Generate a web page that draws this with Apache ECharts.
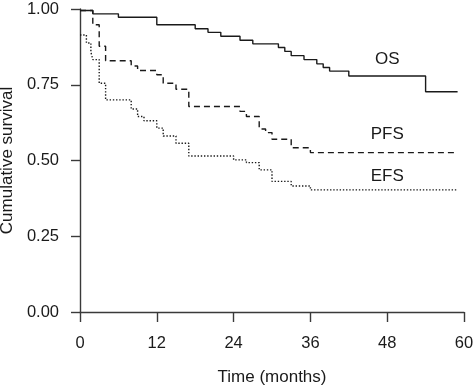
<!DOCTYPE html>
<html>
<head>
<meta charset="utf-8">
<script src="https://cdn.jsdelivr.net/npm/echarts@6/dist/echarts.min.js"></script>
<style>
html,body{margin:0;padding:0;background:#fff;}
#c{width:474px;height:389px;}
</style>
</head>
<body>
<div id="c"></div>
<script>
const xTicks = [0, 12, 24, 36, 48, 60];
const yTicks = [0, 0.25, 0.5, 0.75, 1.0];

const osTime = [0, 2, 6, 12, 18, 20, 22, 25, 27, 31, 32, 33, 35, 37, 38, 39, 42, 54, 59];
const osSurv = [0.995, 0.984, 0.973, 0.948, 0.935, 0.923, 0.910, 0.897, 0.885, 0.873, 0.860, 0.846, 0.833, 0.819, 0.807, 0.795, 0.779, 0.727, 0.727];

const pfsTime = [0, 2, 3, 4, 8, 9, 12, 13, 15, 17, 25, 26, 28, 29, 30, 33, 36, 59];
const pfsSurv = [0.995, 0.948, 0.877, 0.829, 0.812, 0.797, 0.783, 0.755, 0.735, 0.678, 0.662, 0.645, 0.604, 0.592, 0.570, 0.542, 0.526, 0.526];

const efsTime = [0, 1, 1.7, 2, 3, 4, 8, 9, 10, 12, 13, 15, 17, 24, 26, 28, 30, 33, 36, 59];
const efsSurv = [0.914, 0.888, 0.858, 0.833, 0.755, 0.700, 0.670, 0.645, 0.631, 0.607, 0.581, 0.557, 0.515, 0.502, 0.493, 0.469, 0.431, 0.416, 0.403, 0.403];

const curveNames = ['OS', 'PFS', 'EFS'];
const labelPos = [[48, 0.835], [48, 0.585], [48, 0.449]];

const FONT = 'Liberation Sans, Arial, sans-serif';
const INK = '#1a1a1a';
const AX = '#3a3a3a';

function pairs(t, s) { return t.map((v, i) => [v, s[i]]); }

function makeSeries(name, data, dash, idx) {
  return {
    name: name,
    type: 'line',
    step: 'end',
    showSymbol: false,
    symbol: 'none',
    silent: true,
    animation: false,
    data: data,
    lineStyle: { color: INK, width: 1.4, type: dash, cap: 'butt' },
    markPoint: {
      symbol: 'circle',
      symbolSize: 0,
      silent: true,
      data: [{ coord: labelPos[idx], value: name }],
      label: {
        show: true, position: 'inside', formatter: name,
        color: INK, fontSize: 17, fontFamily: FONT
      }
    }
  };
}

const chart = echarts.init(document.getElementById('c'), null, { renderer: 'canvas' });
chart.setOption({
  backgroundColor: '#fff',
  animation: false,
  grid: { left: 80, right: 10, top: 9, bottom: 77, containLabel: false, outerBoundsMode: 'none' },
  xAxis: {
    type: 'value', min: 0, max: 60, interval: 12,
    name: 'Time (months)', nameLocation: 'middle', nameGap: 57,
    nameTextStyle: { color: INK, fontSize: 17, fontFamily: FONT },
    axisLine: { show: true, lineStyle: { color: AX, width: 1.4 } },
    axisTick: { show: true, length: 10, lineStyle: { color: AX, width: 1.4 } },
    axisLabel: { color: INK, fontSize: 16.5, fontFamily: FONT, margin: 23,
      formatter: v => xTicks.includes(v) ? String(v) : '' },
    splitLine: { show: false }
  },
  yAxis: {
    type: 'value', min: 0, max: 1, interval: 0.25,
    name: 'Cumulative survival', nameLocation: 'middle', nameGap: 64,
    nameTextStyle: { color: INK, fontSize: 17, fontFamily: FONT },
    axisLine: { show: true, lineStyle: { color: AX, width: 1.4 } },
    axisTick: { show: true, length: 9, lineStyle: { color: AX, width: 1.4 } },
    axisLabel: { color: INK, fontSize: 16.5, fontFamily: FONT, margin: 21,
      formatter: v => yTicks.some(t => Math.abs(t - v) < 1e-9) ? v.toFixed(2) : '' },
    splitLine: { show: false }
  },
  series: [
    makeSeries(curveNames[0], pairs(osTime, osSurv), 'solid', 0),
    makeSeries(curveNames[1], pairs(pfsTime, pfsSurv), [6, 4], 1),
    makeSeries(curveNames[2], pairs(efsTime, efsSurv), [1.4, 1.8], 2)
  ]
});
</script>
</body>
</html>
